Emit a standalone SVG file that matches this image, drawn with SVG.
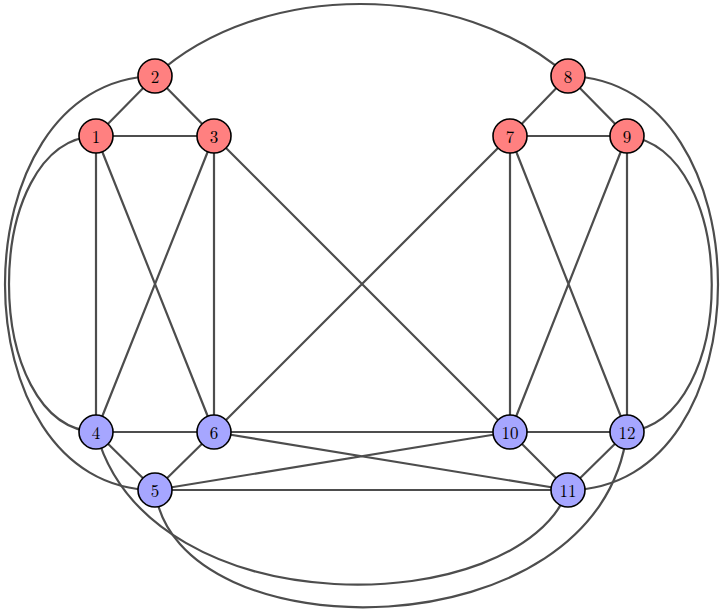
<svg xmlns="http://www.w3.org/2000/svg" width="724" height="613" viewBox="0 0 724 613">
<style>
.e{stroke:#4d4d4d;stroke-width:2.2;fill:none}
.r{fill:#ff8080;stroke:#000;stroke-width:1.6}
.b{fill:#a6a6ff;stroke:#000;stroke-width:1.6}
text{font-family:"Latin Modern Roman","Liberation Serif",serif;font-size:17px;text-anchor:middle;dominant-baseline:central}
</style>
<rect width="724" height="613" fill="#fff"/>
<g id="edges">
<path class="e" d="M96,136L155,76L214,136L96,136L96,432M96,136L214,432M214,136L96,432M214,136L214,432M214,136L510,432M96,432L214,432M96,432L155,490L214,432M214,432L510,136M214,432L510,432M214,432L568,490M155,490L510,432M155,490L568,490M510,136L568,76L627,136L510,136L510,432M510,136L627,432M627,136L510,432M627,136L627,432M510,432L627,432M510,432L568,490L627,432"/>
<path class="e" d="M155,76C260,-20 460,-20 568,76"/>
<path class="e" d="M96,136C-20,140 -20,428 96,432"/>
<path class="e" d="M155,76C-45,80 -45,490 155,490"/>
<path class="e" d="M568,76C768,80 768,490 568,490"/>
<path class="e" d="M627,136C740,150 740,420 627,432"/>
<path class="e" d="M96,432C150,630 520,620 568,490"/>
<path class="e" d="M155,490C175,655 600,655 627,432"/>
</g>
<g id="n1"><circle class="r" cx="96" cy="136" r="17"/><text x="96" y="136">1</text></g>
<g id="n2"><circle class="r" cx="155" cy="76" r="17"/><text x="155" y="76">2</text></g>
<g id="n3"><circle class="r" cx="214" cy="136" r="17"/><text x="214" y="136">3</text></g>
<g id="n4"><circle class="b" cx="96" cy="432" r="17"/><text x="96" y="432">4</text></g>
<g id="n5"><circle class="b" cx="155" cy="490" r="17"/><text x="155" y="490">5</text></g>
<g id="n6"><circle class="b" cx="214" cy="432" r="17"/><text x="214" y="432">6</text></g>
<g id="n7"><circle class="r" cx="510" cy="136" r="17"/><text x="510" y="136">7</text></g>
<g id="n8"><circle class="r" cx="568" cy="76" r="17"/><text x="568" y="76">8</text></g>
<g id="n9"><circle class="r" cx="627" cy="136" r="17"/><text x="627" y="136">9</text></g>
<g id="n10"><circle class="b" cx="510" cy="432" r="17"/><text x="510" y="432">10</text></g>
<g id="n11"><circle class="b" cx="568" cy="490" r="17"/><text x="568" y="490">11</text></g>
<g id="n12"><circle class="b" cx="627" cy="432" r="17"/><text x="627" y="432">12</text></g>
</svg>
